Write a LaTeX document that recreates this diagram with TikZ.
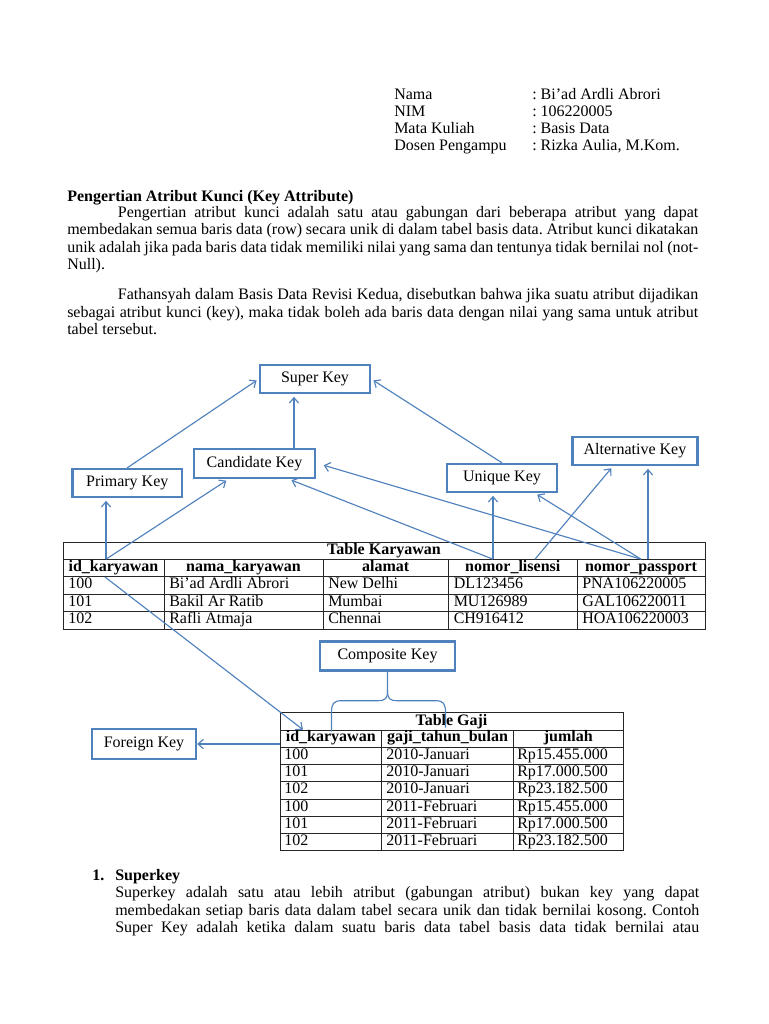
\documentclass[tikz,border=0pt]{standalone}
\usepackage{fontspec}
\setmainfont{Liberation Serif}
\usetikzlibrary{calc, positioning, arrows.meta}
\definecolor{keyblue}{RGB}{79,129,189}
\newcommand{\keyfont}{\fontsize{12pt}{13.2pt}\selectfont}
\frenchspacing

\begin{document}
\begin{tikzpicture}[
  x=0.75pt, y=-0.75pt,
  font=\keyfont,
  link/.style={draw=keyblue, line width=0.85pt, -{Straight Barb[length=4pt, width=7pt]}, shorten >=2pt},
  keybox/.style={draw=keyblue, line width=1.8pt, fill=white, inner sep=0pt,
                 minimum height=21pt, align=center},
  clamp/.style={draw=keyblue, line width=0.85pt},
  grid/.style={draw=black!85, line width=0.7pt},
  hcell/.style={inner sep=0pt, minimum height=13pt, text height=8.5pt, text depth=3.5pt,
                font=\keyfont\bfseries},
  dcell/.style={anchor=base west, inner sep=0pt},
  body/.style={anchor=base west, inner sep=0pt, align=justify}
]
\path[use as bounding box, fill=white] (0,0) rectangle (768,1024);

% --- identity block ---
\foreach \lbl/\val/\yy [count=\i] in {Nama/{Bi’ad Ardli Abrori}/99.5, NIM/106220005/116.6,
    Mata Kuliah/Basis Data/133.7, Dosen Pengampu/{Rizka Aulia, M.Kom.}/150.8}
{
  \node[dcell] (idl\i) at (394,\yy) {\lbl};
  \node[dcell] (idv\i) at (532,\yy) {: \val};
}

% --- intro text ---
\node[dcell, font=\keyfont\bfseries] (title) at (67,201) {Pengertian Atribut Kunci (Key Attribute)};
\node[body, text width=473.25pt] (para1) at (67,217) {\hspace*{38pt}Pengertian atribut kunci
  adalah satu atau gabungan dari beberapa atribut yang dapat\linebreak membedakan semua baris data
  (row) secara unik di dalam tabel basis data. Atribut kunci dikatakan\linebreak unik adalah jika
  pada baris data tidak memiliki nilai yang sama dan tentunya tidak bernilai nol (not-\linebreak Null).};
\node[body, text width=473.25pt] (para2) at (67,299.5) {\hspace*{38pt}Fathansyah dalam Basis Data
  Revisi Kedua, disebutkan bahwa jika suatu atribut dijadikan\linebreak sebagai atribut kunci (key),
  maka tidak boleh ada baris data dengan nilai yang sama untuk atribut\linebreak tabel tersebut.};

% --- key boxes ---
\node[keybox, minimum width=82.5pt] (sk) at (315,379) {Super Key};
\node[keybox, minimum width=90.75pt, minimum height=21.75pt] (ck) at (254.5,463.5) {Candidate Key};
\node[keybox, minimum width=82pt] (pk) at (127.25,483) {Primary Key};
\node[keybox, minimum width=82.5pt] (uk) at (502,478) {Unique Key};
\node[keybox, minimum width=93.75pt] (ak) at (635,451) {Alternative Key};
\node[keybox, minimum width=101.25pt, minimum height=21.75pt] (cpk) at (387.5,656) {Composite Key};
\node[keybox, minimum width=78pt, minimum height=22.5pt] (fk) at (144,744) {Foreign Key};

% --- Table Karyawan ---
\draw[grid] (63,542) rectangle (705,629);
\foreach \yy in {559.4,576.8,594.2,611.6} \draw[grid] (63,\yy) -- (705,\yy);
\foreach \xx in {164,323,448.5,577} \draw[grid] (\xx,559.4) -- (\xx,629);
\node[hcell] (tk) at (384,550.7) {Table Karyawan};
\foreach \nm/\xa/\xb [count=\i] in {id\_karyawan/63/164, nama\_karyawan/164/323, alamat/323/448.5,
    nomor\_lisensi/448.5/577, nomor\_passport/577/705}
  \node[hcell, minimum width={(\xb-\xa)*0.75pt}] (hk\i) at ({(\xa+\xb)/2},568.1) {\nm};
\foreach \a/\b/\c/\d/\e [count=\r] in {100/Bi’ad Ardli Abrori/New Delhi/DL123456/PNA106220005,
    101/Bakil Ar Ratib/Mumbai/MU126989/GAL106220011, 102/Rafli Atmaja/Chennai/CH916412/HOA106220003}
{
  \pgfmathsetmacro{\yb}{576.8+17.4*(\r-1)+12}
  \node[dcell] (ka\r) at (68,\yb) {\a};
  \node[dcell] (kb\r) at (169,\yb) {\b};
  \node[dcell] (kc\r) at (328,\yb) {\c};
  \node[dcell] (kd\r) at (453.5,\yb) {\d};
  \node[dcell] (ke\r) at (582,\yb) {\e};
}

% --- Table Gaji ---
\draw[grid] (280,712) rectangle (623,850.75);
\foreach \yy in {730,747.25,764.5,781.75,799,816.25,833.5} \draw[grid] (280,\yy) -- (623,\yy);
\foreach \xx in {381.5,513.5} \draw[grid] (\xx,730) -- (\xx,850.75);
\node[hcell] (tg) at (451.5,721.7) {Table Gaji};
\foreach \nm/\xa/\xb [count=\i] in {id\_karyawan/280/381.5, gaji\_tahun\_bulan/381.5/513.5, jumlah/513.5/623}
  \node[hcell, minimum width={(\xb-\xa)*0.75pt}] (hg\i) at ({(\xa+\xb)/2},738.6) {\nm};
\foreach \a/\b/\c [count=\r] in {100/2010-Januari/Rp15.455.000, 101/2010-Januari/Rp17.000.500,
    102/2010-Januari/Rp23.182.500, 100/2011-Februari/Rp15.455.000, 101/2011-Februari/Rp17.000.500,
    102/2011-Februari/Rp23.182.500}
{
  \pgfmathsetmacro{\yb}{747.25+17.25*(\r-1)+12}
  \node[dcell] (ga\r) at (284,\yb) {\a};
  \node[dcell] (gb\r) at (386,\yb) {\b};
  \node[dcell] (gc\r) at (517,\yb) {\c};
}

% --- links between keys ---
\coordinate (idk) at ($(hk1.north)+(-7.5,0)$);
\coordinate (lis1) at ($(hk4.north)+(-19.75,0)$);
\coordinate (lis2) at ($(hk4.north)+(22.25,0)$);
\coordinate (pas2) at ($(hk5.north)+(7,0)$);
\draw[link] (pk.north) -- (sk.west);
\draw[link] ($(ck.north)+(39.5,0)$) -- ($(sk.south)+(-21,0)$);
\draw[link] (uk.north) -- (sk.east);
\draw[link] (idk) -- (idk |- pk.south);
\draw[link] (idk) -- ($(ck.south)+(-26,0)$);
\draw[link] (lis1) -- (lis1 |- uk.south);
\draw[link] (lis1) -- ($(ck.south)+(34.5,0)$);
\draw[link] (lis2) -- ($(ak.south)+(-22,0)$);
\draw[link] (hk5.north) -- ($(ck.east)+(5,1)$);
\draw[link] (hk5.north) -- ($(uk.south)+(33,0)$);
\draw[link] (pas2) -- (pas2 |- ak.south);
\draw[link, shorten >=0pt] ($(hk1.south)+(-8.5,0)$) -- ($(hg1.north)+(-27.75,0)$);
\draw[link, shorten >=0pt] (hg1.west |- fk.east) -- (fk.east);

% --- composite brace ---
\draw[clamp] (cpk.south) -- ++(0,19) coordinate (bt)
  .. controls +(0,8) and +(8,0) .. ++(-10,10) -- ++(-36,0)
  .. controls +(-8,0) and +(0,-9) .. ++(-10,12) -- ++(0,19);
\draw[clamp] (bt) .. controls +(0,8) and +(-8,0) .. ++(10,10) -- ++(38,0)
  .. controls +(8,0) and +(0,-9) .. ++(10,12) -- ++(0,15);

% --- superkey section ---
\node[dcell, font=\keyfont\bfseries] (num1) at (92,880.5) {1.};
\node[dcell, font=\keyfont\bfseries] (sktitle) at (115,880.5) {Superkey};
\node[body, text width=438pt] (para3) at (115,897.5) {Superkey adalah satu atau
  lebih atribut (gabungan atribut) bukan key yang dapat\linebreak membedakan setiap baris data
  dalam tabel secara unik dan tidak bernilai kosong. Contoh\linebreak Super Key adalah ketika dalam
  suatu baris data tabel basis data tidak bernilai atau\linebreak};

\end{tikzpicture}
\end{document}
